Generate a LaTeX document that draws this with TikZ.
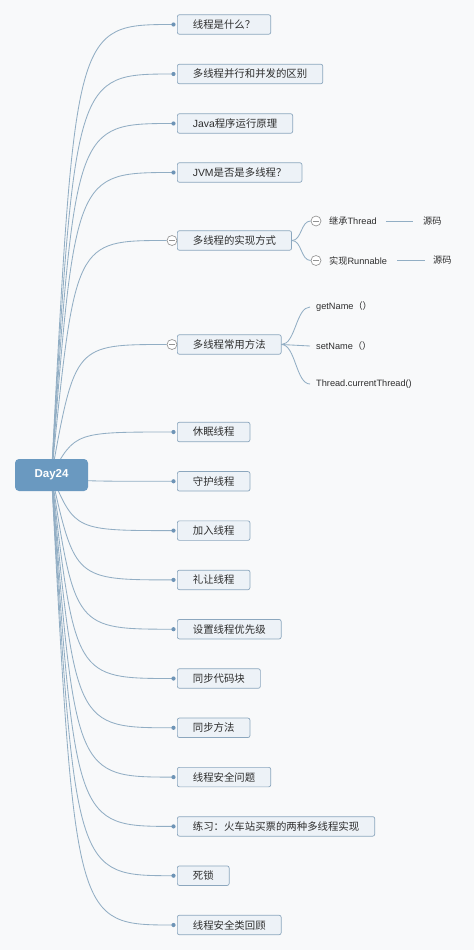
\documentclass[tikz,border=0pt]{standalone}
\usepackage{fontspec}
\setmainfont{Liberation Sans}
\newfontfamily\cjk{Noto Sans CJK SC}
\newfontfamily\lat{Liberation Sans}
\usetikzlibrary{backgrounds}
\definecolor{bgc}{HTML}{F8F9FA}
\definecolor{boxfill}{HTML}{EDF2F7}
\definecolor{boxline}{HTML}{8CA7BE}
\definecolor{rootfill}{HTML}{6A99C0}
\definecolor{linec}{HTML}{92AEC4}
\definecolor{dotc}{HTML}{6E94B6}
\definecolor{txt}{HTML}{2E2E2E}
\definecolor{btn}{HTML}{939393}
\newcommand\fsz[1]{\fontsize{#1}{#1}\selectfont}
\begin{document}
\begin{tikzpicture}[x=1pt,y=-1pt,
  topic/.style={draw=boxline, fill=boxfill, line width=0.7pt, rounded corners=2pt,
    inner xsep=15.5pt, inner ysep=0pt, minimum height=19.5pt, anchor=west,
    text=txt, font=\fsz{10.4}\cjk},
  rootbox/.style={fill=rootfill, rounded corners=4pt, minimum width=73pt,
    minimum height=32pt, inner sep=0pt, text=white, font=\fsz{11.5}\lat\bfseries},
  conn/.style={draw=linec, line width=0.85pt},
  dotn/.style={circle, fill=dotc, inner sep=0pt, minimum size=4.2pt},
  minusbtn/.style={circle, draw=btn, fill=white, minimum size=10pt, inner sep=0pt,
    line width=0.65pt, path picture={\draw[btn, line width=0.65pt]
      ([xshift=-2.8pt]path picture bounding box.center) --
      ([xshift=2.8pt]path picture bounding box.center);}},
  subtopic/.style={inner sep=0pt, anchor=west, text=txt, font=\fsz{9.2}\cjk}
]
\useasboundingbox (0,0) rectangle (474,950);
\coordinate (rc) at (75,475);

\node[rootbox] (root) at (51.5,475) {Day24};

\node[topic] (t1) at (177,24.5) {线程是什么？};
\node[topic] (t2) at (177,74) {多线程并行和并发的区别};
\node[topic] (t3) at (177,123.5) {{\lat Java}程序运行原理};
\node[topic] (t4) at (177,172.5) {{\lat JVM}是否是多线程？};
\node[topic] (t5) at (177,240.5) {多线程的实现方式};
\node[topic] (t6) at (177,344.5) {多线程常用方法};
\node[topic] (t7) at (177,432) {休眠线程};
\node[topic] (t8) at (177,481.3) {守护线程};
\node[topic] (t9) at (177,530.6) {加入线程};
\node[topic] (t10) at (177,579.9) {礼让线程};
\node[topic] (t11) at (177,629.2) {设置线程优先级};
\node[topic] (t12) at (177,678.5) {同步代码块};
\node[topic] (t13) at (177,727.8) {同步方法};
\node[topic] (t14) at (177,777.1) {线程安全问题};
\node[topic] (t15) at (177,826.4) {练习：火车站买票的两种多线程实现};
\node[topic] (t16) at (177,875.7) {死锁};
\node[topic] (t17) at (177,925) {线程安全类回顾};

\foreach \i in {1,2,3,4,7,8,9,10,11,12,13,14,15,16,17}
  \node[dotn] (d\i) at ([xshift=-3.5pt]t\i.west) {};

\node[minusbtn] (m5) at (172,240.5) {};
\node[minusbtn] (m6) at (172,344.5) {};

% children of t5
\node[minusbtn] (m51) at (316,221) {};
\node[minusbtn] (m52) at (316,260.5) {};
\node[subtopic] (s1) at (329,221) {继承{\lat Thread}};
\node[subtopic] (s2) at (329,260.5) {实现{\lat Runnable}};
\node[subtopic] (y1) at (423,221) {源码};
\node[subtopic] (y2) at (433,260.5) {源码};

% children of t6
\node[subtopic] (g1) at (316,307) {{\lat getName}（）};
\node[subtopic] (g2) at (316,346) {{\lat setName}（）};
\node[subtopic] (g3) at (316,384) {{\lat Thread.currentThread()}};

\begin{scope}[on background layer]
  \fill[bgc] (0,0) rectangle (474,950);
  \foreach \i in {1,2,3,4,7,8,9,10,11,12,13,14,15,16,17}
    \draw[conn] (root.center) .. controls (rc |- d\i) .. (d\i.center);
  \draw[conn] (root.center) .. controls (rc |- m5) .. (m5.west);
  \draw[conn] (root.center) .. controls (rc |- m6) .. (m6.west);
  \draw[conn] (t5.east) .. controls +(10,0) and +(-10,0) .. (m51.west);
  \draw[conn] (t5.east) .. controls +(10,0) and +(-10,0) .. (m52.west);
  \draw[conn] ([xshift=9pt]s1.east) -- ([xshift=-10pt]s1.east -| y1.west);
  \draw[conn] ([xshift=10pt]s2.east) -- ([xshift=-8pt]s2.east -| y2.west);
  \draw[conn] (t6.east) .. controls +(14,0) and +(-14,0) .. ([xshift=-6pt]g1.west);
  \draw[conn] (t6.east) .. controls +(14,0) and +(-14,0) .. ([xshift=-6pt]g2.west);
  \draw[conn] (t6.east) .. controls +(14,0) and +(-14,0) .. ([xshift=-6pt]g3.west);
\end{scope}
\end{tikzpicture}
\end{document}
